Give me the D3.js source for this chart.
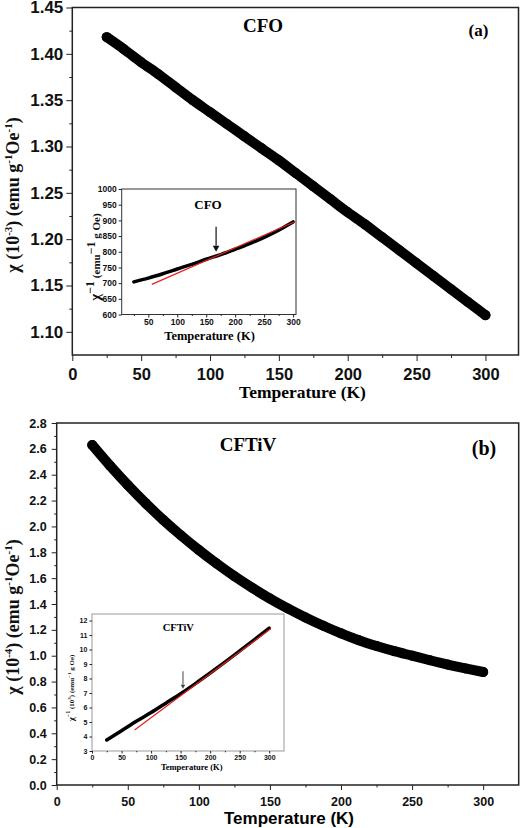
<!DOCTYPE html>
<html><head><meta charset="utf-8">
<script src="https://cdn.jsdelivr.net/npm/d3@7"></script>
<style>html,body{margin:0;padding:0;background:#fff;}svg{display:block;}</style>
</head><body>
<script>
// ---------- DATA ----------
// Panel (a) CFO : chi (10^-3 emu g^-1 Oe^-1) vs T (K)
const tempA = [25,37.5,50,62.5,75,87.5,100,112.5,125,137.5,150,162.5,175,187.5,200,212.5,225,237.5,250,262.5,275,287.5,300];
const chiA  = [1.418,1.405,1.391,1.378,1.364,1.350,1.337,1.324,1.311,1.298,1.285,1.271,1.257,1.243,1.229,1.216,1.202,1.188,1.174,1.160,1.146,1.132,1.118];
// Inset (a): inverse chi
const insetTempA = [25,50,75,100,125,150,175,200,225,250,275,300];
const insetInvA  = [704,716,730,745,760,776,791,808,826,846,869,895];
const fitTempA = [56,302];
const fitInvA  = [696,895];
const arrowA = {t:167, from:880, to:800};
// Panel (b) CFTiV : chi (10^-4) vs T
const tempB = [25,37.5,50,62.5,75,87.5,100,112.5,125,137.5,150,162.5,175,187.5,200,212.5,225,237.5,250,262.5,275,287.5,300];
const chiB  = [2.63,2.47,2.32,2.18,2.05,1.93,1.818,1.713,1.615,1.525,1.442,1.366,1.296,1.232,1.173,1.120,1.075,1.035,1.000,0.965,0.932,0.902,0.874];
// Inset (b): inverse chi (10^3)
const insetTempB = [25,50,75,100,125,150,175,200,225,250,275,300];
const insetInvB  = [3.76,4.40,5.05,5.65,6.30,6.95,7.65,8.38,9.13,9.90,10.68,11.47];
const fitTempB = [72,303];
const fitInvB  = [4.45,11.45];
const arrowB = {t:154, from:8.5, to:7.3};

const xTicksMain = [0,50,100,150,200,250,300];
const xMinorMain = [25,75,125,175,225,275];
const yTicksA = [1.10,1.15,1.20,1.25,1.30,1.35,1.40,1.45];
const yMinorA = [1.125,1.175,1.225,1.275,1.325,1.375,1.425];
const yTicksB = [0,0.2,0.4,0.6,0.8,1.0,1.2,1.4,1.6,1.8,2.0,2.2,2.4,2.6,2.8];
const yMinorB = [0.1,0.3,0.5,0.7,0.9,1.1,1.3,1.5,1.7,1.9,2.1,2.3,2.5,2.7];
const xTicksInsetA = [50,100,150,200,250,300];
const xMinorInsetA = [25,75,125,175,225,275];
const yTicksInsetA = [600,650,700,750,800,850,900,950,1000];
const xTicksInsetB = [0,50,100,150,200,250,300];
const xMinorInsetB = [25,75,125,175,225,275];
const yTicksInsetB = [3,4,5,6,7,8,9,10,11,12];

// ---------- DRAW ----------
const svg = d3.select("body").append("svg").attr("width",520).attr("height",828);
const SANS = "'Liberation Sans', Arial, sans-serif";
const SERIF = "'Liberation Serif', 'Times New Roman', serif";

function styleAxis(g, size, family, weight){
  g.select(".domain").remove();
  g.attr("font-size", size).attr("font-family", family).attr("font-weight", weight||"bold");
  g.selectAll("line").attr("stroke","#222");
  g.selectAll("text").attr("fill","#111");
}

function axes(x, y, o){
  const [x0,x1] = x.range(); const [y0,y1] = y.range();
  svg.append("g").attr("transform",`translate(0,${y0})`)
    .call(d3.axisBottom(x).tickValues(o.xt).tickFormat(o.xf).tickSize(o.ts).tickPadding(o.xpad).tickSizeOuter(0))
    .call(g=>styleAxis(g,o.fs,SANS));
  if(o.xm) svg.append("g").attr("transform",`translate(0,${y0})`)
    .call(d3.axisBottom(x).tickValues(o.xm).tickFormat("").tickSize(o.ts/2).tickSizeOuter(0))
    .call(g=>styleAxis(g,o.fs,SANS));
  svg.append("g").attr("transform",`translate(${x0},0)`)
    .call(d3.axisLeft(y).tickValues(o.yt).tickFormat(o.yf).tickSize(o.ts).tickPadding(o.ypad).tickSizeOuter(0))
    .call(g=>styleAxis(g,o.yfs||o.fs,SANS));
  if(o.ym) svg.append("g").attr("transform",`translate(${x0},0)`)
    .call(d3.axisLeft(y).tickValues(o.ym).tickFormat("").tickSize(o.ts/2).tickSizeOuter(0))
    .call(g=>styleAxis(g,o.fs,SANS));
}

function frame(x,y,stroke,w,fill){
  const [x0,x1]=x.range(), [y0,y1]=y.range();
  svg.append("rect").attr("x",x0).attr("y",y1).attr("width",x1-x0).attr("height",y0-y1)
    .attr("fill",fill||"none").attr("stroke",stroke).attr("stroke-width",w);
}

function thickSeries(x,y,T,V){
  const pts = T.map((t,i)=>[x(t),y(V[i])]);
  svg.append("path").attr("d",d3.line().curve(d3.curveMonotoneX)(pts))
    .attr("fill","none").attr("stroke","#000").attr("stroke-width",10)
    .attr("stroke-linecap","round").attr("stroke-linejoin","round");
  svg.append("g").selectAll("circle").data(pts).join("circle")
    .attr("cx",d=>d[0]).attr("cy",d=>d[1]).attr("r",5).attr("fill","#000");
}
function insetSeries(x,y,T,V,fT,fV,w){
  const pts = T.map((t,i)=>[x(t),y(V[i])]);
  svg.append("path").attr("d",d3.line().curve(d3.curveMonotoneX)(pts))
    .attr("fill","none").attr("stroke","#000").attr("stroke-width",w).attr("stroke-linecap","round");
  svg.append("path").attr("d",d3.line()(fT.map((t,i)=>[x(t),y(fV[i])])))
    .attr("fill","none").attr("stroke","#e3211c").attr("stroke-width",1.2);
}
function arrow(x,y,a,col,w,head){
  const X=x(a.t), Y0=y(a.from), Y1=y(a.to);
  svg.append("line").attr("x1",X).attr("x2",X).attr("y1",Y0).attr("y2",Y1-head)
    .attr("stroke",col).attr("stroke-width",w);
  svg.append("path").attr("d",`M${X-head*0.55},${Y1-head}L${X+head*0.55},${Y1-head}L${X},${Y1}Z`).attr("fill",col);
}

function supText(x,y,rot,parts,family,baseSize){
  const t = svg.append("text").attr("transform",`translate(${x},${y}) rotate(${rot})`)
    .attr("text-anchor","middle").attr("font-family",family).attr("font-weight","bold").attr("fill","#111");
  let shift=0;
  parts.forEach(p=>{
    const s = t.append("tspan").text(p.t).attr("font-size",p.s||baseSize);
    const target = p.up||0;
    s.attr("dy", (shift - target)); shift = target;
  });
  return t;
}

// ===== Panel (a) =====
const xA = d3.scaleLinear([0,324],[72.3,518.5]);
const yA = d3.scaleLinear([1.075,1.45],[355,7.5]);
frame(xA,yA,"#222",1.5);
thickSeries(xA,yA,tempA,chiA);
axes(xA,yA,{xt:xTicksMain,xm:xMinorMain,yt:yTicksA,ym:yMinorA,xf:d3.format("d"),yf:d3.format(".2f"),ts:6,xpad:7.5,ypad:3,fs:16.5,yfs:17});
svg.append("text").attr("x",263).attr("y",32).attr("text-anchor","middle").attr("font-family",SERIF).attr("font-weight","bold").attr("font-size",19).text("CFO");
svg.append("text").attr("x",478.5).attr("y",36).attr("text-anchor","middle").attr("font-family",SERIF).attr("font-weight","bold").attr("font-size",17).text("(a)");
svg.append("text").attr("x",302.5).attr("y",398).attr("text-anchor","middle").attr("font-family",SERIF).attr("font-weight","bold").attr("font-size",17.5).text("Temperature (K)");
supText(19,195,-90,[{t:"χ (10"},{t:"-3",s:11,up:7},{t:") (emu g"},{t:"-1",s:11,up:7},{t:"Oe"},{t:"-1",s:11,up:7},{t:")"}],SERIF,18);

// Inset (a)
const xIA = d3.scaleLinear([4,305],[121.7,296]);
const yIA = d3.scaleLinear([600,1000],[314.5,189]);
frame(xIA,yIA,"#333",1,"#fff");
insetSeries(xIA,yIA,insetTempA,insetInvA,fitTempA,fitInvA,3.5);
axes(xIA,yIA,{xt:xTicksInsetA,xm:xMinorInsetA,yt:yTicksInsetA,xf:d3.format("d"),yf:d3.format("d"),ts:3,xpad:1.5,ypad:2,fs:8.5});
arrow(xIA,yIA,arrowA,"#111",1.2,6);
svg.append("text").attr("x",208).attr("y",209).attr("text-anchor","middle").attr("font-family",SERIF).attr("font-weight","bold").attr("font-size",13).text("CFO");
svg.append("text").attr("x",209.5).attr("y",340).attr("text-anchor","middle").attr("font-family",SERIF).attr("font-weight","bold").attr("font-size",12.5).text("Temperature (K)");
supText(100,257,-90,[{t:"χ",s:15},{t:"−1",s:12,up:6},{t:" (emu",s:11},{t:"−1",s:12,up:5},{t:" g Oe)",s:11}],SERIF,11);

// ===== Panel (b) =====
const xB = d3.scaleLinear([0,325],[56.7,518.7]);
const yB = d3.scaleLinear([0,2.8],[785,423]);
frame(xB,yB,"#222",1.5);
thickSeries(xB,yB,tempB,chiB);
axes(xB,yB,{xt:xTicksMain,xm:xMinorMain,yt:yTicksB,ym:yMinorB,xf:d3.format("d"),yf:d3.format(".1f"),ts:5,xpad:7.5,ypad:5,fs:12.5});
svg.append("text").attr("x",248).attr("y",451).attr("text-anchor","middle").attr("font-family",SERIF).attr("font-weight","bold").attr("font-size",19).text("CFTiV");
svg.append("text").attr("x",484).attr("y",455).attr("text-anchor","middle").attr("font-family",SERIF).attr("font-weight","bold").attr("font-size",20).text("(b)");
svg.append("text").attr("x",289).attr("y",824).attr("text-anchor","middle").attr("font-family",SANS).attr("font-weight","bold").attr("font-size",17).text("Temperature (K)");
supText(19,617,-90,[{t:"χ (10"},{t:"-4",s:11,up:7},{t:") (emu g"},{t:"-1",s:11,up:7},{t:"Oe"},{t:"-1",s:11,up:7},{t:")"}],SERIF,18);

// Inset (b)
const xIB = d3.scaleLinear([0,325],[92,284]);
const yIB = d3.scaleLinear([3,12.45],[751,614]);
frame(xIB,yIB,"#999",1,"#fff");
insetSeries(xIB,yIB,insetTempB,insetInvB,fitTempB,fitInvB,3.5);
axes(xIB,yIB,{xt:xTicksInsetB,xm:xMinorInsetB,yt:yTicksInsetB,xf:d3.format("d"),yf:d3.format("d"),ts:2.5,xpad:1.5,ypad:2.2,fs:7});
arrow(xIB,yIB,arrowB,"#444",1,4);
svg.append("text").attr("x",178.3).attr("y",631).attr("text-anchor","middle").attr("font-family",SERIF).attr("font-weight","bold").attr("font-size",10.5).text("CFTiV");
svg.append("text").attr("x",191.7).attr("y",770).attr("text-anchor","middle").attr("font-family",SERIF).attr("font-weight","bold").attr("font-size",8.5).text("Temperature (K)");
supText(74,688,-90,[{t:"χ",s:9},{t:"−1",s:6,up:4},{t:" (10",s:7},{t:"3",s:5,up:3},{t:") (emu",s:7},{t:"−1",s:5,up:3},{t:" g Oe)",s:7}],SERIF,7);
</script>
</body></html>
